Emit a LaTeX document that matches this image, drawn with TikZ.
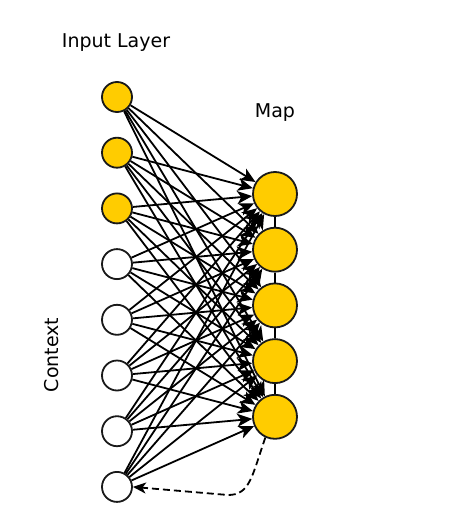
\documentclass[tikz,border=0pt]{standalone}
\usepackage{fontspec}
\setmainfont{DejaVu Sans}
\usetikzlibrary{arrows.meta,positioning}
\definecolor{mapgold}{HTML}{FFCC00}
\tikzset{
  neuron/.style={circle,draw=black!90,line width=1.8pt,minimum size=30pt,inner sep=0pt},
  inputneuron/.style={neuron,fill=mapgold},
  contextneuron/.style={neuron,fill=white},
  mapneuron/.style={neuron,fill=mapgold,minimum size=44pt},
  link/.style={-{Stealth[length=15pt,width=13pt,inset=4pt]},line width=1.8pt},
  backlink/.style={-{Stealth[length=13pt,width=11pt,inset=3.5pt]},line width=1.8pt,dash pattern=on 7pt off 4pt},
  label/.style={font=\fontsize{19}{22}\selectfont},
}
\begin{document}
\begin{tikzpicture}[x=1pt,y=-1pt]
  \useasboundingbox (0,0) rectangle (474,522);
  % Input layer and context nodes
  \foreach \i in {1,2,3}
    \node[inputneuron] (in\i) at (117,{97+55.7*(\i-1)}) {};
  \foreach \i in {4,...,8}
    \node[contextneuron] (in\i) at (117,{97+55.7*(\i-1)}) {};
  % Map nodes, chained
  \foreach \j in {1,...,5}
    \node[mapneuron] (map\j) at (275,{194+55.7*(\j-1)}) {};
  \foreach \j [evaluate=\j as \k using int(\j+1)] in {1,...,4}
    \draw[line width=1.8pt] (map\j) -- (map\k);
  % Full connections from every input to every map node
  \foreach \i in {1,...,8}
    \foreach \j in {1,...,5}
      \draw[link] (in\i) -- (map\j);
  % Feedback to the context
  \draw[backlink] (map5.245) .. controls (252,476) and (250,495) .. (228,495) -- (in8.east);
  % Labels
  \node[label] (inputlabel) at (116,43) {Input Layer};
  \node[label] (maplabel) at (275,113) {Map};
  \node[label,rotate=90] (contextlabel) at (52,355) {Context};
\end{tikzpicture}
\end{document}
